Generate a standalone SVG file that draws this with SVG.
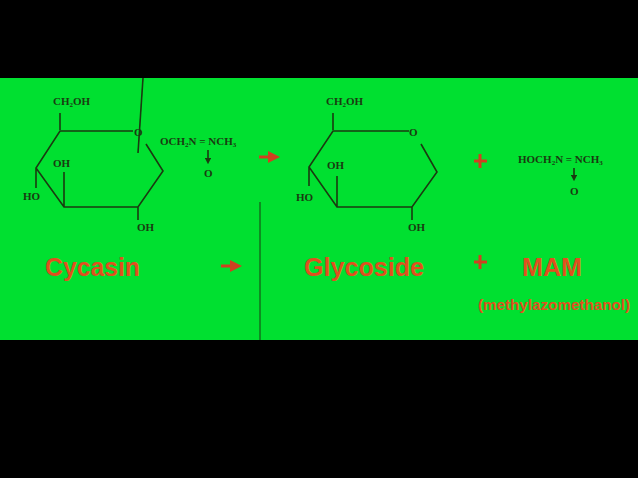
<svg xmlns="http://www.w3.org/2000/svg" width="638" height="478" viewBox="0 0 638 478">
<style>
.b{stroke:#1a3a10;stroke-width:1.6;fill:none}
.t{font-family:"Liberation Serif",serif;font-size:11px;font-weight:bold;fill:#1a3a10}
.r{font-family:"Liberation Sans",sans-serif;font-weight:bold;fill:#e0501e}
.ar{stroke:#d04020;stroke-width:3;fill:none}
</style>
<defs><marker id="ah" markerWidth="4" markerHeight="4" refX="2" refY="2" orient="auto"><path d="M0,0L4,2L0,4z" fill="#d04020"/></marker>
<marker id="sa" markerWidth="4" markerHeight="4" refX="2" refY="2" orient="auto"><path d="M0,0L4,2L0,4z" fill="#1a3a10"/></marker></defs>
<rect width="638" height="478" fill="#000"/>
<rect y="78" width="638" height="262" fill="#00e030"/>
<g id="cycasin">
<path class="b" d="M133,131H60L36,168L64,207H138L163,171L146,144M60,130V113M64,207V172M36,168V188M138,207V220"/>
<line class="b" x1="143" y1="78" x2="138" y2="153" stroke-width="1"/>
<text class="t" x="53" y="105">CH<tspan font-size="7" dy="2">2</tspan><tspan dy="-2">OH</tspan></text>
<text class="t" x="134" y="136">O</text>
<text class="t" x="53" y="167">OH</text>
<text class="t" x="23" y="200">HO</text>
<text class="t" x="137" y="231">OH</text>
<text class="t" x="160" y="145">OCH<tspan font-size="7" dy="2">2</tspan><tspan dy="-2">N = NCH</tspan><tspan font-size="7" dy="2">3</tspan></text>
<line class="b" x1="208" y1="150" x2="208" y2="161" marker-end="url(#sa)" stroke-width="1"/>
<text class="t" x="204" y="177">O</text>
</g>
<g id="glycoside">
<path class="b" d="M409,131H333L309,167L337,207H412L437,172L421,144M333,130V113M337,207V176M309,167V186M412,207V220"/>
<text class="t" x="326" y="105">CH<tspan font-size="7" dy="2">2</tspan><tspan dy="-2">OH</tspan></text>
<text class="t" x="409" y="136">O</text>
<text class="t" x="327" y="169">OH</text>
<text class="t" x="296" y="201">HO</text>
<text class="t" x="408" y="231">OH</text>
</g>
<g id="mam">
<text class="t" x="518" y="163">HOCH<tspan font-size="7" dy="2">2</tspan><tspan dy="-2">N = NCH</tspan><tspan font-size="7" dy="2">3</tspan></text>
<line class="b" x1="574" y1="168" x2="574" y2="178" marker-end="url(#sa)" stroke-width="1"/>
<text class="t" x="570" y="195">O</text>
</g>
<g id="connectors">
<line class="ar" x1="259" y1="157" x2="274" y2="157" marker-end="url(#ah)"/>
<line class="ar" x1="221" y1="266" x2="236" y2="266" marker-end="url(#ah)"/>
<path d="M474,161H487M480,154V168M474,262H487M480,255V269" stroke="#d04020" stroke-width="3"/>
<line x1="260" y1="202" x2="260" y2="340" stroke="#1a3a10" stroke-width="1"/>
</g>
<text class="r" x="45" y="276" font-size="26" textLength="95" lengthAdjust="spacingAndGlyphs">Cycasin</text>
<text class="r" x="304" y="276" font-size="26" textLength="120" lengthAdjust="spacingAndGlyphs">Glycoside</text>
<text class="r" x="522" y="276" font-size="26" textLength="60" lengthAdjust="spacingAndGlyphs">MAM</text>
<text class="r" x="478" y="310" font-size="14" textLength="152" lengthAdjust="spacingAndGlyphs">(methylazomethanol)</text>
</svg>
